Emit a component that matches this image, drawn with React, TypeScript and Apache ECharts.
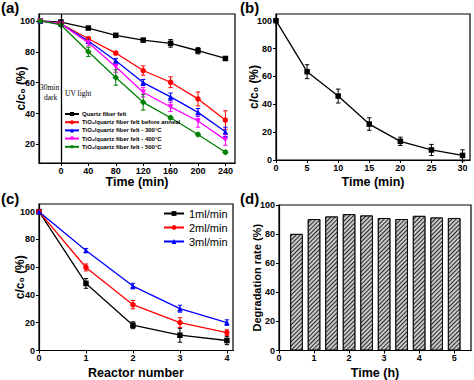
import React, { useEffect, useRef } from "react";
import * as echarts from "echarts";

// ---------- Panel (a) ----------
const timeA = [-30, 0, 40, 80, 120, 160, 200, 240];
const quartz = [100, 99.3, 95.4, 90.7, 87.6, 85.5, 80.7, 75.7];
const quartzErr = [0, 0.8, 1, 1, 1, 2.5, 2, 1];
const beforeAnneal = [100, 98.2, 88.5, 79.2, 67.9, 60.3, 49.5, 35.8];
const beforeAnnealErr = [0, 1, 1, 1, 3, 3.5, 4.5, 6];
const t300 = [100, 98, 87, 74.2, 60.1, 50.8, 40.8, 28.2];
const t300Err = [0, 1, 1.5, 1.5, 2, 2.5, 2.5, 3];
const t400 = [100, 98, 85.9, 70.3, 53.8, 44.3, 35.2, 23];
const t400Err = [0, 1, 2, 3.5, 3, 3, 4, 3.5];
const t500 = [100, 97.4, 80, 63.4, 47.3, 37.3, 26.5, 15];
const t500Err = [0, 1, 3, 5, 5, 1, 1, 1];
const namesA = [
  "Quartz fiber felt",
  "TiO₂/quartz fiber felt before anneal",
  "TiO₂/quartz fiber felt - 300°C",
  "TiO₂/quartz fiber felt - 400°C",
  "TiO₂/quartz fiber felt - 500°C",
];
const xTicksA = [0, 40, 80, 120, 160, 200, 240];
const yTicksA = [20, 40, 60, 80, 100];

// ---------- Panel (b) ----------
const timeB = [0, 5, 10, 15, 20, 25, 30];
const ratioB = [100, 63.4, 45.9, 25.8, 13.4, 7.2, 3.3];
const ratioBErr = [0, 5, 5, 4.5, 3, 4, 4];
const xTicksB = [0, 5, 10, 15, 20, 25, 30];

// ---------- Panel (c) ----------
const reactor = [0, 1, 2, 3, 4];
const flow1 = [100, 48.3, 18.2, 11, 7.2];
const flow1Err = [0, 3.5, 2.5, 5, 3];
const flow2 = [100, 59.8, 33, 20.1, 12.9];
const flow2Err = [0, 2.5, 3, 3.5, 2];
const flow3 = [100, 72, 46.4, 30.1, 20.1];
const flow3Err = [0, 1.5, 2, 2.5, 2];
const namesC = ["1ml/min", "2ml/min", "3ml/min"];
const xTicksC = [0, 1, 2, 3, 4];

// ---------- Panel (d) ----------
const hoursD = [0.5, 1, 1.5, 2, 2.5, 3, 3.5, 4, 4.5, 5];
const rateD = [80.1, 90.3, 92.1, 93.7, 92.8, 91, 90.3, 92.5, 91.4, 91];
const xTicksD = [0, 1, 2, 3, 4, 5];
const yTicks100 = [0, 20, 40, 60, 80, 100];

const FONT = "'Liberation Sans', Arial, sans-serif";

function errSeries(name: string, xs: number[], ys: number[], es: number[], color: string, idx: number) {
  const data = xs
    .map((x, i) => [x, ys[i] - es[i], ys[i] + es[i]])
    .filter((_, i) => es[i] > 0);
  return {
    type: "custom",
    name: name + "_err",
    xAxisIndex: idx,
    yAxisIndex: idx,
    silent: true,
    z: 1,
    data,
    renderItem: (params: any, api: any) => {
      const x = api.value(0);
      const lo = api.coord([x, api.value(1)]);
      const hi = api.coord([x, api.value(2)]);
      const w = 2.2;
      const st = { stroke: color, lineWidth: 1 };
      return {
        type: "group",
        children: [
          { type: "line", shape: { x1: lo[0], y1: lo[1], x2: hi[0], y2: hi[1] }, style: st },
          { type: "line", shape: { x1: lo[0] - w, y1: lo[1], x2: lo[0] + w, y2: lo[1] }, style: st },
          { type: "line", shape: { x1: hi[0] - w, y1: hi[1], x2: hi[0] + w, y2: hi[1] }, style: st },
        ],
      };
    },
  };
}

function lineSeries(name: string, xs: number[], ys: number[], color: string, symbol: string, idx: number, size = 5.5, rotate = 0) {
  return {
    type: "line",
    name,
    xAxisIndex: idx,
    yAxisIndex: idx,
    data: xs.map((x, i) => [x, ys[i]]),
    symbol,
    symbolSize: size,
    symbolRotate: rotate,
    showAllSymbol: true,
    itemStyle: { color },
    lineStyle: { color, width: 1.3 },
    z: 3,
  };
}

function xAxis(idx: number, min: number, max: number, ticks: number[], name: string, nameGap: number) {
  return {
    type: "value",
    gridIndex: idx,
    min,
    max,
    name,
    nameLocation: "middle",
    nameGap,
    nameMoveOverlap: false,
    nameTextStyle: { fontFamily: FONT, fontWeight: "bold", fontSize: 12.5, color: "#000", lineHeight: 13 },
    axisLine: { show: true, onZero: false, lineStyle: { color: "#000", width: 1.2 } },
    axisTick: { show: true, inside: false, length: 3, customValues: ticks, lineStyle: { color: "#000" } },
    axisLabel: { customValues: ticks, fontFamily: FONT, fontWeight: "bold", fontSize: 9, color: "#000", margin: 3, lineHeight: 9 },
    splitLine: { show: false },
  };
}

function yAxis(idx: number, min: number, max: number, ticks: number[], name: string, nameGap: number, nameSize = 12) {
  return {
    type: "value",
    gridIndex: idx,
    min,
    max,
    name,
    nameLocation: "middle",
    nameGap,
    nameMoveOverlap: false,
    nameRotate: 90,
    nameTextStyle: { fontFamily: FONT, fontWeight: "bold", fontSize: nameSize, color: "#000" },
    axisLine: { show: true, onZero: false, lineStyle: { color: "#000", width: 1.2 } },
    axisTick: { show: true, inside: false, length: 3, customValues: ticks, lineStyle: { color: "#000" } },
    axisLabel: { customValues: ticks, fontFamily: FONT, fontWeight: "bold", fontSize: 9, color: "#000", margin: 4 },
    splitLine: { show: false },
  };
}

export default function App() {
  const ref = useRef<HTMLDivElement>(null);
  useEffect(() => {
    if (!ref.current) return;
    const chart = echarts.init(ref.current, null, { renderer: "svg" });
    const colorsA = ["#000000", "#ff0000", "#0000ff", "#ff00ff", "#008000"];
    const seriesA = [quartz, beforeAnneal, t300, t400, t500];
    const errsA = [quartzErr, beforeAnnealErr, t300Err, t400Err, t500Err];
    const symA = ["rect", "circle", "triangle", "triangle", "diamond"];
    const rotA = [0, 0, 0, 180, 0];
    const colorsC = ["#000000", "#ff0000", "#0000ff"];
    const seriesC = [flow1, flow2, flow3];
    const errsC = [flow1Err, flow2Err, flow3Err];
    const symC = ["rect", "circle", "triangle"];

    const series: any[] = [];
    namesA.forEach((n, i) => {
      series.push(errSeries(n, timeA, seriesA[i], errsA[i], colorsA[i], 0));
      const s: any = lineSeries(n, timeA, seriesA[i], colorsA[i], symA[i], 0, symA[i] === "diamond" ? 6.5 : 5.5, rotA[i]);
      if (i === 0) {
        s.markLine = {
          silent: true,
          symbol: "none",
          label: { show: false },
          lineStyle: { color: "#000", type: "solid", width: 1.3 },
          data: [{ xAxis: 0 }],
        };
      }
      series.push(s);
    });
    series.push(errSeries("b", timeB, ratioB, ratioBErr, "#000", 1));
    series.push(lineSeries("b", timeB, ratioB, "#000", "rect", 1, 5.5));
    namesC.forEach((n, i) => {
      series.push(errSeries(n, reactor, seriesC[i], errsC[i], colorsC[i], 2));
      series.push(lineSeries(n, reactor, seriesC[i], colorsC[i], symC[i], 2, 5.5));
    });
    series.push({
      type: "bar",
      name: "d",
      xAxisIndex: 3,
      yAxisIndex: 3,
      data: hoursD.map((h, i) => [h, rateD[i]]),
      barWidth: 12.5,
      itemStyle: {
        color: "#c8c8c8",
        borderColor: "#000",
        borderWidth: 0.8,
        decal: {
          symbol: "rect",
          symbolSize: 1,
          color: "#2a2a2a",
          dashArrayX: [1, 0],
          dashArrayY: [1, 1.6],
          rotation: -Math.PI / 4,
        },
      },
    });

    const labelStyle = (t: string) => ({ text: t, font: "bold 15px " + FONT, fill: "#000", verticalAlign: "top", align: "left" });
    const noteFont = "7.5px 'Liberation Serif', 'DejaVu Serif', serif";

    const option: any = {
      animation: false,
      backgroundColor: "#fff",
      textStyle: { fontFamily: FONT },
      grid: [
        { left: 39, top: 14, width: 196, height: 149, show: true, borderColor: "#000", borderWidth: 1.2 },
        { left: 276, top: 14, width: 194, height: 146, show: true, borderColor: "#000", borderWidth: 1.2 },
        { left: 39, top: 204, width: 194, height: 148, show: true, borderColor: "#000", borderWidth: 1.2 },
        { left: 279, top: 205, width: 192, height: 147, show: true, borderColor: "#000", borderWidth: 1.2 },
      ],
      xAxis: [
        xAxis(0, -32, 254, xTicksA, "Time (min)", 12),
        xAxis(1, 0, 31.2, xTicksB, "Time (min)", 15.5),
        xAxis(2, 0, 4.13, xTicksC, "Reactor number", 15.5),
        xAxis(3, 0, 5.48, xTicksD, "Time (h)", 15.5),
      ],
      yAxis: [
        yAxis(0, 8, 104.5, yTicksA, "c/c₀ (%)", 12),
        yAxis(1, 0, 104.8, yTicks100, "c/c₀ (%)", 16),
        yAxis(2, 0, 105.5, yTicks100, "c/c₀ (%)", 13),
        yAxis(3, 0, 100, yTicks100, "Degradation rate (%)", 16.5, 11),
      ],
      legend: [
        {
          data: namesA,
          left: 64,
          top: 111,
          orient: "vertical",
          itemGap: 2.2,
          itemWidth: 14,
          itemHeight: 5,
          textStyle: { fontFamily: FONT, fontWeight: "bold", fontSize: 6, color: "#000", padding: [0, 0, 0, -2] },
          padding: 0,
        },
        {
          data: namesC,
          left: 163,
          top: 208,
          orient: "vertical",
          itemGap: 3,
          itemWidth: 20,
          itemHeight: 6,
          textStyle: { fontFamily: FONT, fontSize: 11, color: "#000" },
          padding: 0,
        },
      ],
      graphic: [
        { type: "text", x: 1, y: 0, style: labelStyle("(a)") },
        { type: "text", x: 240, y: 0, style: labelStyle("(b)") },
        { type: "text", x: 1, y: 191, style: labelStyle("(c)") },
        { type: "text", x: 240, y: 191, style: labelStyle("(d)") },
        { type: "text", x: 40, y: 83, style: { text: "30min", font: noteFont, fill: "#000", verticalAlign: "top" } },
        { type: "text", x: 44, y: 93, style: { text: "dark", font: noteFont, fill: "#000", verticalAlign: "top" } },
        { type: "text", x: 65, y: 89, style: { text: "UV light", font: noteFont, fill: "#000", verticalAlign: "top" } },
      ],
      series,
    };
    chart.setOption(option);
    return () => chart.dispose();
  }, []);
  return <div ref={ref} style={{ position: "fixed", left: 0, top: 0, width: 474, height: 380 }} />;
}
